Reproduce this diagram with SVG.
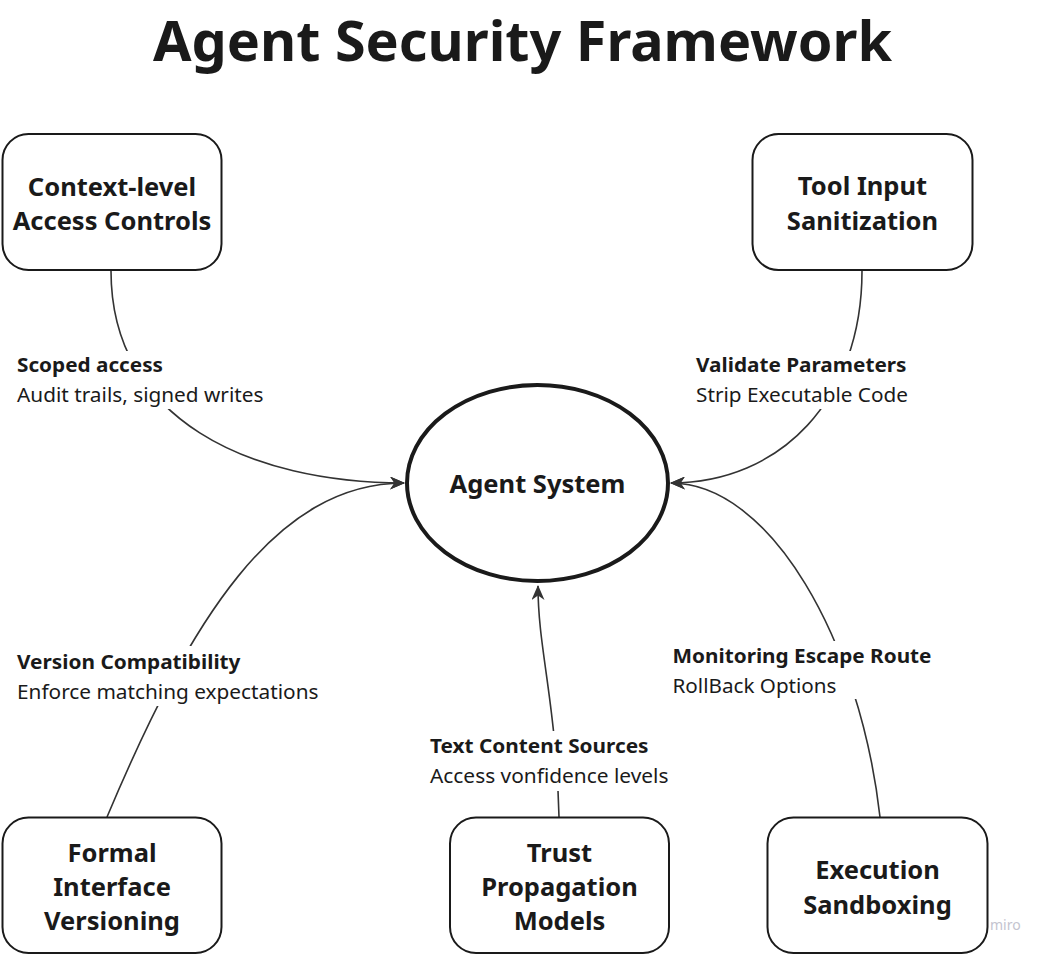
<svg xmlns="http://www.w3.org/2000/svg" width="1046" height="955" viewBox="0 0 1046 955">
<style>
  .node rect { fill: #ffffff; stroke: #1a1a1a; stroke-width: 2; }
  .ntext { font-family: "Noto Sans", "Open Sans", sans-serif; font-weight: 700; font-size: 25.5px; fill: #1a1a1a; text-anchor: middle; }
  .conn { fill: none; stroke: #333333; stroke-width: 1.6; }
  .lb { font-family: "Noto Sans", "Open Sans", sans-serif; font-weight: 700; font-size: 19px; fill: #1a1a1a; }
  .lr { font-family: "Noto Sans", "Open Sans", sans-serif; font-weight: 400; font-size: 19px; fill: #1a1a1a; }
  .lbg { fill: #ffffff; }
</style>
<defs>
  <marker id="arr" viewBox="0 0 15 13" refX="14" refY="6.5" markerWidth="15" markerHeight="13" markerUnits="userSpaceOnUse" orient="auto">
    <path d="M0,0 L15,6.5 L0,13 L4.5,6.5 Z" fill="#333333"/>
  </marker>
</defs>
<rect x="0" y="0" width="1046" height="955" fill="#ffffff"/>
<text x="522.5" y="61" font-family="Noto Sans, Open Sans, sans-serif" font-weight="700" font-size="56" fill="#1a1a1a" text-anchor="middle" textLength="739" lengthAdjust="spacingAndGlyphs">Agent Security Framework</text>

<g id="connectors">
  <path class="conn" d="M111,271 C111,420 250,483 404,483" marker-end="url(#arr)"/>
  <path class="conn" d="M862,271 C862,400 780,483 671,483" marker-end="url(#arr)"/>
  <path class="conn" d="M107,817 C190,620 275,483 404,483" marker-end="url(#arr)"/>
  <path class="conn" d="M559,817 C556,700 538,650 538,586" marker-end="url(#arr)"/>
  <path class="conn" d="M880,817 C860,640 770,483 671,483" marker-end="url(#arr)"/>
</g>

<g id="labels">
  <g id="label-scoped">
    <rect class="lbg" x="14" y="351" width="254" height="58"/>
    <text class="lb" x="17" y="372" textLength="146" lengthAdjust="spacingAndGlyphs">Scoped access</text>
    <text class="lr" x="17" y="402" textLength="246.5" lengthAdjust="spacingAndGlyphs">Audit trails, signed writes</text>
  </g>
  <g id="label-validate">
    <rect class="lbg" x="693" y="351" width="218" height="58"/>
    <text class="lb" x="696" y="372" textLength="210.5" lengthAdjust="spacingAndGlyphs">Validate Parameters</text>
    <text class="lr" x="696" y="402" textLength="212" lengthAdjust="spacingAndGlyphs">Strip Executable Code</text>
  </g>
  <g id="label-version">
    <rect class="lbg" x="14" y="646" width="308" height="60"/>
    <text class="lb" x="17" y="669" textLength="223.5" lengthAdjust="spacingAndGlyphs">Version Compatibility</text>
    <text class="lr" x="17" y="699" textLength="301.5" lengthAdjust="spacingAndGlyphs">Enforce matching expectations</text>
  </g>
  <g id="label-text">
    <rect class="lbg" x="427" y="731" width="244" height="60"/>
    <text class="lb" x="430" y="753" textLength="218.5" lengthAdjust="spacingAndGlyphs">Text Content Sources</text>
    <text class="lr" x="430" y="783" textLength="238.5" lengthAdjust="spacingAndGlyphs">Access vonfidence levels</text>
  </g>
  <g id="label-monitor">
    <rect class="lbg" x="669" y="641" width="266" height="58"/>
    <text class="lb" x="672.5" y="663" textLength="259" lengthAdjust="spacingAndGlyphs">Monitoring Escape Route</text>
    <text class="lr" x="672.5" y="693" textLength="164" lengthAdjust="spacingAndGlyphs">RollBack Options</text>
  </g>
</g>

<g id="node-agent">
  <ellipse cx="537.5" cy="483" rx="130.5" ry="98" fill="#ffffff" stroke="#1a1a1a" stroke-width="4"/>
  <text class="ntext" x="537.5" y="493">Agent System</text>
</g>

<g id="node-context" class="node">
  <rect x="2.5" y="134" width="219" height="136" rx="26"/>
  <text class="ntext" x="112" y="196">Context-level</text>
  <text class="ntext" x="112" y="230">Access Controls</text>
</g>

<g id="node-tool" class="node">
  <rect x="752.5" y="134" width="220" height="136" rx="26"/>
  <text class="ntext" x="862.5" y="195">Tool Input</text>
  <text class="ntext" x="862.5" y="230">Sanitization</text>
</g>

<g id="node-formal" class="node">
  <rect x="2.5" y="817.5" width="219" height="135.5" rx="26"/>
  <text class="ntext" x="112" y="862">Formal</text>
  <text class="ntext" x="112" y="896">Interface</text>
  <text class="ntext" x="112" y="930">Versioning</text>
</g>

<g id="node-trust" class="node">
  <rect x="450" y="817.5" width="219" height="135.5" rx="26"/>
  <text class="ntext" x="559.5" y="862">Trust</text>
  <text class="ntext" x="559.5" y="896">Propagation</text>
  <text class="ntext" x="559.5" y="930">Models</text>
</g>

<g id="node-exec" class="node">
  <rect x="767.5" y="817.5" width="220" height="135.5" rx="26"/>
  <text class="ntext" x="877.5" y="879">Execution</text>
  <text class="ntext" x="877.5" y="914">Sandboxing</text>
</g>

<text x="990" y="930" font-family="Noto Sans, Open Sans, sans-serif" font-size="14" fill="#c4c4cf">miro</text>
</svg>
